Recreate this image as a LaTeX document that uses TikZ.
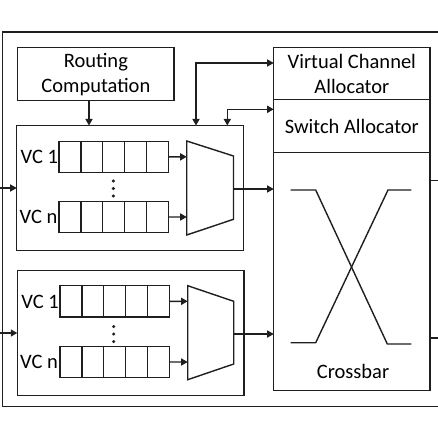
\documentclass[tikz,border=0pt]{standalone}
\usepackage{fontspec}
\setmainfont{Carlito}
\usetikzlibrary{arrows.meta,calc}
\begin{document}
\begin{tikzpicture}[x=1pt,y=-1pt,
  ln/.style={line width=1.4pt,draw=black!88},
  box/.style={ln,rectangle,inner sep=0pt,outer sep=0pt,anchor=north west},
  arr/.style={ln,-{Triangle[length=6.5pt,width=7pt]}},
  darr/.style={ln,{Triangle[length=6.5pt,width=7pt]}-{Triangle[length=6.5pt,width=7pt]}},
  lab/.style={font=\fontsize{20.5}{25}\selectfont,align=center,inner sep=0pt},
  vclab/.style={font=\fontsize{20.5}{25}\selectfont,inner sep=0pt,anchor=west}]
\clip (0,0) rectangle (438,438);
\useasboundingbox (0,0) rectangle (438,438);
% outer frame
\draw[ln] (2.7,32) rectangle (460,406.7);
% boxes
\node[box,minimum width=156.3pt,minimum height=53pt] (rc) at (17.7,47.7) {};
\node[lab] at (rc.center) {Routing\\Computation};
\node[box,minimum width=227pt,minimum height=125.2pt] (iu1) at (16.7,125.5) {};
\node[box,minimum width=226.7pt,minimum height=124.6pt] (iu2) at (17.3,270.7) {};
\node[box,minimum width=156.3pt,minimum height=51.6pt] (vca) at (273.7,47.7) {};
\node[lab] at (vca.center) {Virtual Channel\\Allocator};
\node[box,minimum width=156.3pt,minimum height=53.4pt] (sa) at (273.7,99.3) {};
\node[lab] at (sa.center) {Switch Allocator};
\node[box,minimum width=156.3pt,minimum height=238pt] (xb) at (273.7,152.7) {};
\node[lab] (xbl) at (353,371.3) {Crossbar};
% queues
\foreach \nm/\x/\y in {qa/59/141.3, qb/59/201.3, qc/60/285.7, qd/60/346.3}{
  \node[box,minimum width=109.3pt,minimum height=31.3pt] (\nm) at (\x,\y) {};
  \foreach \k in {1,2,3,4}{
    \draw[ln] ($(\x,\y)+(\k*21.86,0)$) -- ++(0,31.3);
  }
}
% labels
\node[vclab] (la) at (20.5,157) {VC 1};
\node[vclab] (lb) at (19.5,217) {VC n};
\node[vclab] (lc) at (21.2,301.5) {VC 1};
\node[vclab] (ld) at (20,362) {VC n};
% dots
\foreach \x/\y in {113.3/181, 113.7/326.5}{
  \foreach \d in {0,7.5,15}{\fill[black!88] (\x,\y+\d) circle (1.7pt);}
}
% muxes
\draw[ln] (186.7,141) -- (233.5,156) -- (233.5,219.3) -- (186.7,235) -- cycle;
\draw[ln] (187.7,285.7) -- (233.7,301.3) -- (233.7,364) -- (187.7,379.7) -- cycle;
\coordinate (m1a) at (186.7,156.8);
\coordinate (m1b) at (186.7,217);
\coordinate (m2a) at (187.7,301.3);
\coordinate (m2b) at (187.7,362);
\coordinate (m1o) at (233.5,189);
\coordinate (m2o) at (233.7,334);
\draw[arr] (qa.east) -- (m1a);
\draw[arr] (qb.east) -- (m1b);
\draw[arr] (qc.east) -- (m2a);
\draw[arr] (qd.east) -- (m2b);
\draw[arr] (m1o) -- (m1o -| xb.west);
\draw[arr] (m2o) -- (m2o -| xb.west);
% inputs
\coordinate (in1) at (0,188);
\coordinate (in2) at (0,333);
\draw[arr] (in1) -- (in1 -| iu1.west);
\draw[arr] (in2) -- (in2 -| iu2.west);
% routing -> input unit
\coordinate (rcx) at (89,0);
\draw[arr] (rc.south -| rcx) -- (iu1.north -| rcx);
% allocator links
\coordinate (va) at (196,63);
\coordinate (sb) at (227.3,109.3);
\draw[darr] (iu1.north -| va) -- (va) -- (va -| vca.west);
\draw[darr] (iu1.north -| sb) -- (sb) -- (sb -| sa.west);
% crossbar X
\draw[ln] (290.7,190) -- (315.7,190) -- (387.3,344) -- (411.3,344);
\draw[ln] (411.3,190) -- (388,190) -- (315.7,342.7) -- (290.7,342.7);
% outputs
\coordinate (o1) at (445,180.7);
\coordinate (o2) at (445,338);
\draw[ln] (o1 -| xb.east) -- (o1);
\draw[ln] (o2 -| xb.east) -- (o2);
\end{tikzpicture}
\end{document}
